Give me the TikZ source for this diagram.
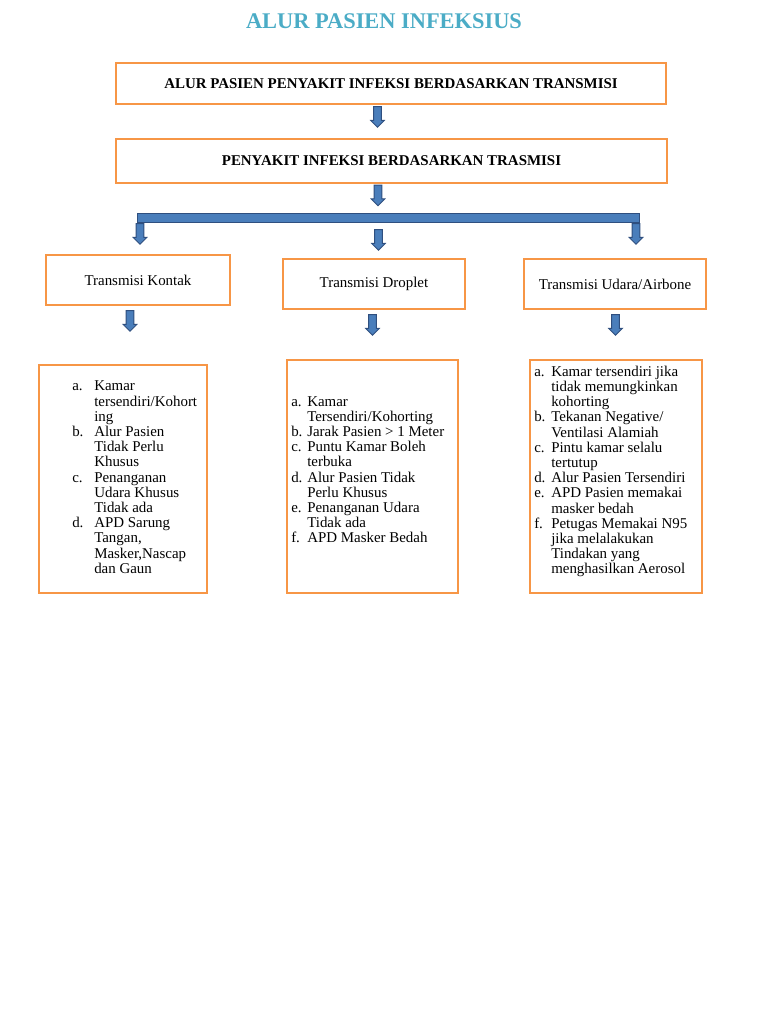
\documentclass[tikz,border=0pt]{standalone}
\usepackage{fontspec}
\setmainfont{Liberation Serif}
\usetikzlibrary{shapes.arrows}
\definecolor{boxorange}{HTML}{F79646}
\definecolor{arrowblue}{HTML}{4A7EBB}
\definecolor{arrowedge}{HTML}{2F4F7F}
\definecolor{titleblue}{HTML}{4BACC6}

\begin{document}
\begin{tikzpicture}[x=0.75pt,y=-0.75pt,
    box/.style={draw=boxorange,line width=1.5pt,inner sep=0pt,font=\fontsize{11.2}{13}\selectfont},
    blkarrow/.style={single arrow,draw=arrowedge,fill=arrowblue,line width=0.7pt,inner sep=2.5pt,
        single arrow head extend=2.3pt,single arrow tip angle=90,minimum height=15.5pt,shape border rotate=270},
    itemlist/.style={anchor=west,inner sep=0pt,font=\fontsize{11.2}{11.4}\selectfont}]

  \useasboundingbox (0,0) rectangle (768,1024);

  \node[text=titleblue,font=\fontsize{16.8}{18}\selectfont\bfseries] (title) at (384,21) {ALUR PASIEN INFEKSIUS};

  \node[box,minimum width=412.5pt,minimum height=30.75pt] (alur) at (391,83.5) {\bfseries ALUR PASIEN PENYAKIT INFEKSI BERDASARKAN TRANSMISI};
  \node[box,minimum width=413.25pt,minimum height=33pt] (penyakit) at (391.5,161) {\bfseries PENYAKIT INFEKSI BERDASARKAN TRASMISI};

  \node[blkarrow] (a1) at (377.5,115) {};
  \node[blkarrow] (a2) at (378,193.5) {};

  \node[draw=arrowedge,fill=arrowblue,line width=0.7pt,minimum width=377pt,minimum height=6.75pt,inner sep=0pt] (bar) at (388.5,217.5) {};
  \node[blkarrow] (bl) at (140,232) {};
  \node[blkarrow] (bm) at (378.5,238) {};
  \node[blkarrow] (br) at (636,232) {};

  \node[box,minimum width=138pt,minimum height=37.5pt] (kontak) at (138,280) {Transmisi Kontak};
  \node[box,minimum width=136.5pt,minimum height=37.5pt] (droplet) at (374,284) {Transmisi Droplet};
  \node[box,minimum width=136.5pt,minimum height=37.5pt] (udara) at (615,284) {Transmisi Udara/Airbone};

  \node[blkarrow] (ak) at (130,319) {};
  \node[blkarrow] (ad) at (372.5,323) {};
  \node[blkarrow] (au) at (615.5,323) {};

  \node[box,minimum width=126pt,minimum height=171pt] (lkontak) at (123,479) {};
  \node[box,minimum width=128.25pt,minimum height=174.75pt] (ldroplet) at (372.5,476.5) {};
  \node[box,minimum width=129pt,minimum height=174.75pt] (ludara) at (616,476.5) {};

  \node[itemlist] (tkontak) at (72,479) {\begin{tabular}{@{}p{16.5pt}@{}l@{}}
    a. & Kamar\\ & tersendiri/Kohort\\ & ing\\
    b. & Alur Pasien\\ & Tidak Perlu\\ & Khusus\\
    c. & Penanganan\\ & Udara Khusus\\ & Tidak ada\\
    d. & APD Sarung\\ & Tangan,\\ & Masker,Nascap\\ & dan Gaun
  \end{tabular}};
  \node[itemlist] (tdroplet) at (291,471.5) {\begin{tabular}{@{}p{12pt}@{}l@{}}
    a. & Kamar\\ & Tersendiri/Kohorting\\
    b. & Jarak Pasien > 1 Meter\\
    c. & Puntu Kamar Boleh\\ & terbuka\\
    d. & Alur Pasien Tidak\\ & Perlu Khusus\\
    e. & Penanganan Udara\\ & Tidak ada\\
    f. & APD Masker Bedah
  \end{tabular}};
  \node[itemlist] (tudara) at (534,472) {\begin{tabular}{@{}p{12.75pt}@{}l@{}}
    a. & Kamar tersendiri jika\\ & tidak memungkinkan\\ & kohorting\\
    b. & Tekanan Negative/\\ & Ventilasi Alamiah\\
    c. & Pintu kamar selalu\\ & tertutup\\
    d. & Alur Pasien Tersendiri\\
    e. & APD Pasien memakai\\ & masker bedah\\
    f. & Petugas Memakai N95\\ & jika melalakukan\\ & Tindakan yang\\ & menghasilkan Aerosol
  \end{tabular}};
\end{tikzpicture}
\end{document}
